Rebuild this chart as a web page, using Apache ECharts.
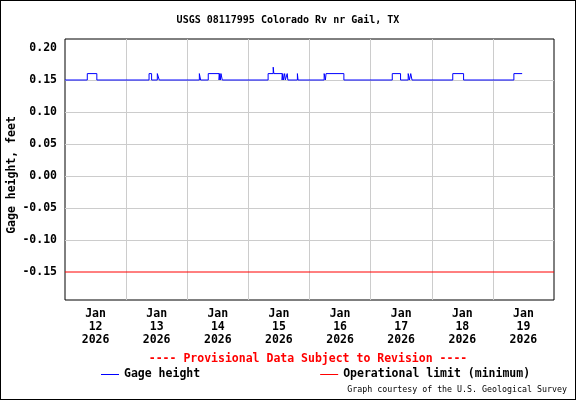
<!DOCTYPE html>
<html>
<head>
<meta charset="utf-8">
<script src="https://cdn.jsdelivr.net/npm/echarts@6/dist/echarts.min.js"></script>
<style>html,body{margin:0;padding:0;background:#fff}#c{width:576px;height:400px}</style>
</head>
<body>
<div id="c"></div>
<script>
// Gage height breakpoints (value holds from this time until the next one)
var gageTimes = [
  '2026-01-12 00:00','2026-01-12 08:45','2026-01-12 12:30',
  '2026-01-13 09:00','2026-01-13 10:00','2026-01-13 12:15','2026-01-13 13:00',
  '2026-01-14 04:45','2026-01-14 05:15','2026-01-14 08:15','2026-01-14 12:30','2026-01-14 12:45','2026-01-14 13:00','2026-01-14 13:15','2026-01-14 13:45',
  '2026-01-15 07:45','2026-01-15 09:45','2026-01-15 10:00','2026-01-15 13:15','2026-01-15 13:30','2026-01-15 13:45','2026-01-15 14:15','2026-01-15 14:30','2026-01-15 15:15','2026-01-15 15:30','2026-01-15 19:15','2026-01-15 19:30',
  '2026-01-16 05:45','2026-01-16 06:15','2026-01-16 06:30','2026-01-16 13:30',
  '2026-01-17 08:30','2026-01-17 11:45','2026-01-17 14:45','2026-01-17 15:15','2026-01-17 15:45','2026-01-17 16:15',
  '2026-01-18 08:15','2026-01-18 12:30',
  '2026-01-19 08:15','2026-01-19 11:30'
];
var gageValues = [
  0.15,0.16,0.15,
  0.16,0.15,0.16,0.15,
  0.16,0.15,0.16,0.15,0.16,0.15,0.16,0.15,
  0.16,0.17,0.16,0.15,0.16,0.15,0.16,0.15,0.16,0.15,0.16,0.15,
  0.16,0.15,0.16,0.15,
  0.16,0.15,0.16,0.15,0.16,0.15,
  0.16,0.15,
  0.16,0.16
];
var limitTimes = ['2026-01-12 00:00','2026-01-20 00:00'];
var limitValues = [-0.15,-0.15];
var yTicks = [-0.15,-0.10,-0.05,0,0.05,0.10,0.15,0.20];
var dayLabels = ['12','13','14','15','16','17','18','19'];
var monthLabel = 'Jan', yearLabel = '2026';

// hours elapsed since 2026-01-12 00:00
function hrs(s){
  var p = s.split(/[- :]/).map(Number);
  return (Date.UTC(p[0],p[1]-1,p[2],p[3],p[4]) - Date.UTC(2026,0,12,0,0)) / 3600000;
}
var noons = dayLabels.map(function(d,i){return i*24+12;});

var F = '"DejaVu Sans Mono", monospace';
var chart = echarts.init(document.getElementById('c'), null, {renderer:'canvas'});
chart.setOption({
  animation:false,
  backgroundColor:'#fff',
  title:{text:'USGS 08117995 Colorado Rv nr Gail, TX', left:'center', top:10,
    textStyle:{fontFamily:F, fontSize:10, fontWeight:'bold', color:'#000'}},
  grid:{left:65, top:39, right:22, bottom:100, show:true, borderColor:'#000', borderWidth:1, containLabel:false},
  xAxis:{type:'value', min:0, max:dayLabels.length*24, interval:24,
    axisLine:{show:false},
    axisTick:{show:false},
    splitLine:{show:true, showMinLine:false, showMaxLine:false, lineStyle:{color:'#cccccc', width:1}},
    axisLabel:{customValues:noons, margin:8, fontFamily:F, fontSize:11.5, fontWeight:'bold', color:'#000', lineHeight:13, align:'center',
      formatter:function(v){var i=Math.round((v-12)/24); return monthLabel+'\n'+dayLabels[i]+'\n'+yearLabel;}}
  },
  yAxis:{type:'value', min:-0.19375, max:0.2140625,
    axisLine:{show:false},
    axisTick:{show:false, customValues:yTicks},
    splitLine:{show:true, showMinLine:false, showMaxLine:false, lineStyle:{color:'#cccccc', width:1}},
    axisLabel:{customValues:yTicks, margin:8, fontFamily:F, fontSize:11.5, fontWeight:'bold', color:'#000',
      formatter:function(v){return (Math.abs(v)<1e-9?0:v).toFixed(2);}}
  },
  legend:{left:96, top:363.5, itemWidth:18, itemHeight:1, itemGap:120, icon:'rect',
    textStyle:{fontFamily:F, fontSize:11.5, fontWeight:'bold', color:'#000'},
    data:['Gage height','Operational limit (minimum)']
  },
  series:[
    {name:'Gage height', type:'line', step:'end', symbol:'none', silent:true,
      lineStyle:{color:'#0000ff', width:1}, itemStyle:{color:'#0000ff'},
      data:gageTimes.map(function(t,i){return [hrs(t), gageValues[i]];})},
    {name:'Operational limit (minimum)', type:'line', symbol:'none', silent:true,
      lineStyle:{color:'#ff0000', width:1}, itemStyle:{color:'#ff0000'},
      data:limitTimes.map(function(t,i){return [hrs(t), limitValues[i]];})}
  ],
  graphic:[
    {type:'rect', shape:{x:0,y:0,width:576,height:400}, style:{fill:null, stroke:'#000', lineWidth:2}, silent:true},
    {type:'text', x:12, y:175, rotation:Math.PI/2, style:{text:'Gage height, feet', fontFamily:F, fontSize:11.5, fontWeight:'bold', fill:'#000', align:'center', verticalAlign:'middle'}},
    {type:'text', x:308, y:359, style:{text:'---- Provisional Data Subject to Revision ----', fontFamily:F, fontSize:11.5, fontWeight:'bold', fill:'#ff0000', align:'center', verticalAlign:'middle'}},
    {type:'text', x:567, y:390, style:{text:'Graph courtesy of the U.S. Geological Survey', fontFamily:F, fontSize:8.3, fill:'#000', align:'right', verticalAlign:'middle'}}
  ]
});
</script>
</body>
</html>
